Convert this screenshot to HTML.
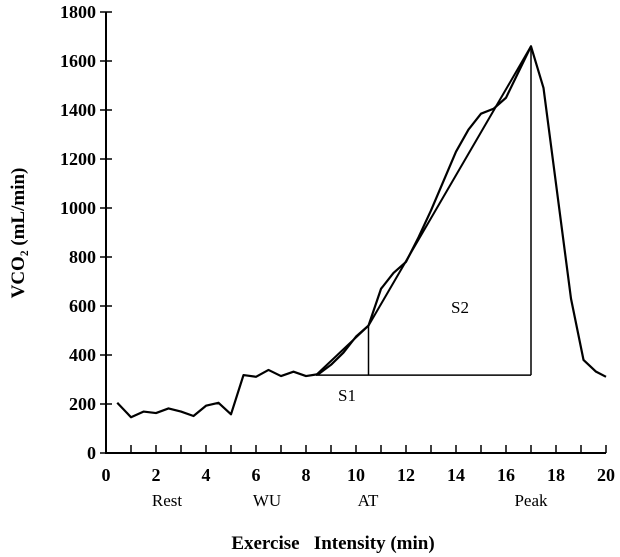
<!DOCTYPE html>
<html><head><meta charset="utf-8"><style>
body{margin:0;background:#fff}
svg{display:block;font-family:"Liberation Serif",serif}
text{font-size:17px;fill:#000}
</style></head><body>
<svg id="c" width="620" height="557">
<g id="axes"></g><g id="marks"></g>
<text x="167" y="506" text-anchor="middle">Rest</text>
<text x="267" y="506" text-anchor="middle">WU</text>
<text x="368" y="506" text-anchor="middle">AT</text>
<text x="531" y="506" text-anchor="middle">Peak</text>
<text x="333" y="549" text-anchor="middle" style="font-size:19px;font-weight:bold" xml:space="preserve">Exercise   Intensity (min)</text>
<text transform="translate(24,233) rotate(-90)" text-anchor="middle" style="font-size:19px;font-weight:bold">VCO₂ (mL/min)</text>
<text x="347" y="401" text-anchor="middle">S1</text>
<text x="460" y="313" text-anchor="middle">S2</text>
</svg>
<script>
const xs=[0.45,1,1.5,2,2.5,3,3.5,4,4.5,5,5.5,6,6.5,7,7.5,8,8.5,9,9.5,10,10.5,11,11.5,12,12.5,13,13.5,14,14.5,15,15.5,16,17,17.5,18.6,19.1,19.6,20];
const ys=[205,146,169,163,182,169,151,193,205,158,318,311,339,314,332,314,322,360,410,475,520,670,735,780,880,990,1110,1230,1320,1385,1405,1450,1660,1490,630,380,332,311];
const xTicks=[0,2,4,6,8,10,12,14,16,18,20];
const yTicks=[0,200,400,600,800,1000,1200,1400,1600,1800];
const baseY=318, atX=10.5, atY=520, peakX=17, peakY=1660, s1StartX=8.4;
const X=v=>106+v*25, Y=v=>453-v*0.245;
const NS="http://www.w3.org/2000/svg";
const ax=document.getElementById('axes'), mk=document.getElementById('marks');
function line(p,x1,y1,x2,y2,w){const l=document.createElementNS(NS,'line');l.setAttribute('x1',x1);l.setAttribute('y1',y1);l.setAttribute('x2',x2);l.setAttribute('y2',y2);l.setAttribute('stroke','#000');l.setAttribute('stroke-width',w);p.appendChild(l);return l;}
function txt(p,x,y,s,a){const t=document.createElementNS(NS,'text');t.setAttribute('x',x);t.setAttribute('y',y);t.setAttribute('text-anchor',a);t.style.fontWeight='bold';t.style.fontSize='18px';t.textContent=s;p.appendChild(t);return t;}
let a=line(ax,106,Y(1800),106,454,2);


a=line(ax,105,453,X(20),453,2);


for(let i=1;i<=20;i++){line(ax,X(i),453,X(i),445,1.5);}
xTicks.forEach(v=>{const t=txt(ax,X(v),481,v,'middle');

});
yTicks.forEach(v=>{line(ax,100,Y(v),112,Y(v),1.5);const t=txt(ax,96,Y(v)+6,v,'end');

});
const pl=document.createElementNS(NS,'polyline');
pl.setAttribute('points',xs.map((x,i)=>X(x)+','+Y(ys[i])).join(' '));
pl.setAttribute('fill','none');pl.setAttribute('stroke','#000');pl.setAttribute('stroke-width','2.2');pl.setAttribute('stroke-linejoin','round');


mk.appendChild(pl);
let l=line(mk,X(s1StartX),Y(baseY),X(peakX),Y(baseY),1.5);


l=line(mk,X(atX),Y(baseY),X(atX),Y(atY),1.5);


l=line(mk,X(peakX),Y(baseY),X(peakX),Y(peakY),1.5);


l=line(mk,X(s1StartX),Y(baseY),X(atX),Y(atY),2);


l=line(mk,X(atX),Y(atY),X(peakX),Y(peakY),2);


</script>
</body></html>
